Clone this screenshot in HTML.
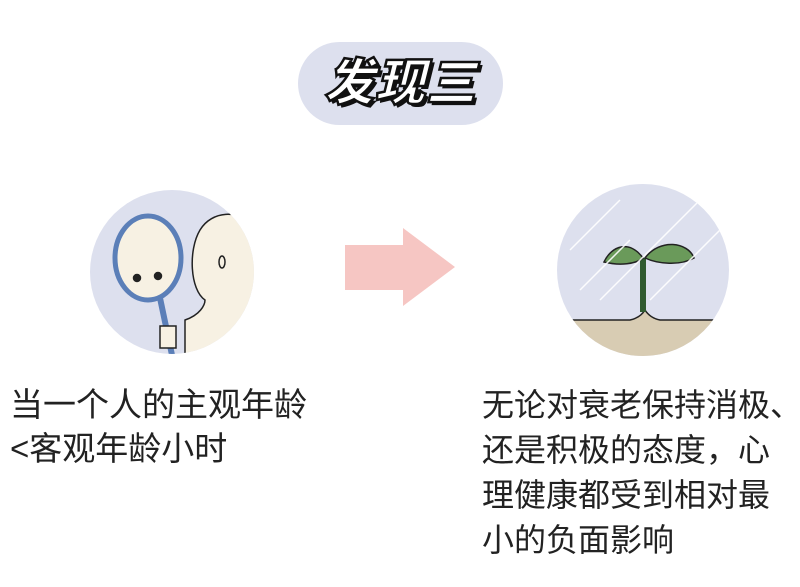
<!DOCTYPE html>
<html><head><meta charset="utf-8"><style>
body{margin:0;width:800px;height:587px;background:#fff;position:relative;overflow:hidden;font-family:"Liberation Sans","Noto Sans CJK SC",sans-serif;}
.pill{position:absolute;left:298px;top:42px;width:205px;height:83px;border-radius:42px;background:#dde0ee;}
.title{position:absolute;left:298px;top:42px;width:205px;height:83px;line-height:83px;text-align:center;font-size:50px;font-weight:900;font-style:italic;color:#fff;-webkit-text-stroke:2.5px #111;text-shadow:3px 3px 0 #111;letter-spacing:1px;}
.t{position:absolute;font-size:33px;line-height:44px;color:#222;white-space:nowrap;}
</style></head><body>
<div class="pill"></div>
<div class="title">发现三</div>
<svg width="800" height="587" style="position:absolute;left:0;top:0">
 <circle cx="172" cy="272" r="82" fill="#dde0ee"/>
 <clipPath id="c1"><circle cx="172" cy="272" r="82"/></clipPath>
 <g clip-path="url(#c1)" stroke="#222" stroke-width="1.5">
  <path d="M185 355 L185 320 C200 315 205 305 205 300 C190 290 188 250 200 230 C212 210 240 210 250 225 L262 230 L262 355 Z" fill="#f7f1e3"/>
  <ellipse cx="148" cy="258" rx="33" ry="42" fill="#f7f1e3" stroke="#5b7fb8" stroke-width="5"/>
  <line x1="160" y1="298" x2="172" y2="355" stroke="#5b7fb8" stroke-width="6"/>
  <circle cx="137" cy="278" r="3.5" fill="#222"/><circle cx="158" cy="276" r="3.5" fill="#222"/>
  <ellipse cx="222" cy="262" rx="3" ry="6" fill="none"/>
  <path d="M160 326 h16 v22 h-16 z" fill="#f7f1e3"/>
 </g>
 <circle cx="643" cy="270" r="86" fill="#dde0ee"/>
 <clipPath id="c2"><circle cx="643" cy="270" r="86"/></clipPath>
 <g clip-path="url(#c2)">
  <path d="M550 320 L630 320 Q640 318 645 310 Q650 318 660 320 L740 320 L740 360 L550 360 Z" fill="#d8ccb3" stroke="#222" stroke-width="1.5"/>
  <path d="M643 312 L643 258" stroke="#2f5a2f" stroke-width="6"/>
  <path d="M643 258 C630 240 612 245 604 262 C620 266 636 264 643 258 Z" fill="#6a9a5a" stroke="#222" stroke-width="1.5"/>
  <path d="M645 258 C660 238 688 242 694 258 C680 266 658 264 645 258 Z" fill="#6a9a5a" stroke="#222" stroke-width="1.5"/>
  <g stroke="#fff" stroke-width="1.5" opacity="0.9">
   <line x1="570" y1="250" x2="620" y2="200"/><line x1="600" y1="300" x2="700" y2="200"/>
   <line x1="650" y1="300" x2="720" y2="230"/><line x1="580" y1="290" x2="630" y2="240"/>
  </g>
 </g>
 <path d="M345 245 H403 V228 L455 267 L403 306 V290 H345 Z" fill="#f6c6c3"/>
</svg>
<div class="t" style="left:10px;top:383px">当一个人的主观年龄<br>&lt;客观年龄小时</div>
<div class="t" style="left:482px;top:383px;font-size:32px;line-height:45px">无论对衰老保持消极、<br>还是积极的态度，心<br>理健康都受到相对最<br>小的负面影响</div>
</body></html>
